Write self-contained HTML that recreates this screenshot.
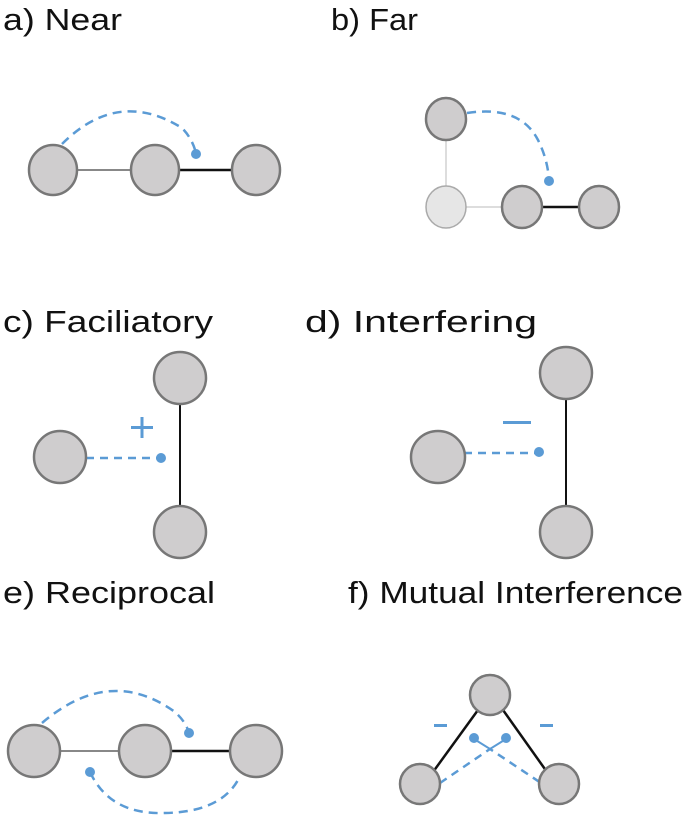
<!DOCTYPE html>
<html><head><meta charset="utf-8"><style>html,body{margin:0;padding:0;background:#fff}</style></head>
<body>
<svg width="685" height="816" viewBox="0 0 685 816" xmlns="http://www.w3.org/2000/svg">
<g font-family="Liberation Sans, sans-serif" font-size="31" fill="#111">
<text x="3" y="30" textLength="119" lengthAdjust="spacingAndGlyphs">a) Near</text>
<text x="331" y="30" textLength="87" lengthAdjust="spacingAndGlyphs">b) Far</text>
<text x="3" y="332" textLength="210" lengthAdjust="spacingAndGlyphs">c) Faciliatory</text>
<text x="305" y="332" textLength="232" lengthAdjust="spacingAndGlyphs">d) Interfering</text>
<text x="3" y="603" textLength="212" lengthAdjust="spacingAndGlyphs">e) Reciprocal</text>
<text x="348" y="603" textLength="335" lengthAdjust="spacingAndGlyphs">f) Mutual Interference</text>
</g>
<g fill="none" stroke-linecap="butt">
<line x1="77" y1="170" x2="131" y2="170" stroke="#888" stroke-width="2"/>
<line x1="179" y1="170" x2="232" y2="170" stroke="#111" stroke-width="2.5"/>
<path d="M62,144 Q118,88 182,128 Q192,138 196,153" stroke="#5b9bd5" stroke-width="2.5" stroke-dasharray="9,6"/>
<line x1="446" y1="140" x2="446" y2="186" stroke="#ddd" stroke-width="2"/>
<line x1="466" y1="207" x2="502" y2="207" stroke="#ddd" stroke-width="2"/>
<line x1="542" y1="207" x2="579" y2="207" stroke="#111" stroke-width="2.5"/>
<path d="M467,113 Q520,105 538,140 Q548,160 549,181" stroke="#5b9bd5" stroke-width="2.5" stroke-dasharray="9,6"/>
<line x1="180" y1="404" x2="180" y2="506" stroke="#111" stroke-width="2"/>
<line x1="86" y1="458" x2="161" y2="458" stroke="#5b9bd5" stroke-width="2.5" stroke-dasharray="8,6"/>
<line x1="566" y1="399" x2="566" y2="506" stroke="#111" stroke-width="2"/>
<line x1="464" y1="453" x2="539" y2="453" stroke="#5b9bd5" stroke-width="2.5" stroke-dasharray="8,6"/>
<line x1="60" y1="751" x2="119" y2="751" stroke="#888" stroke-width="2"/>
<line x1="171" y1="751" x2="230" y2="751" stroke="#111" stroke-width="2.5"/>
<path d="M42,723 Q110,665 175,712 Q186,722 189,733" stroke="#5b9bd5" stroke-width="2.5" stroke-dasharray="9,6"/>
<path d="M90,772 Q110,815 165,813 Q220,812 238,780" stroke="#5b9bd5" stroke-width="2.5" stroke-dasharray="9,6"/>
<line x1="478" y1="710" x2="433" y2="772" stroke="#111" stroke-width="2.5"/>
<line x1="503" y1="710" x2="547" y2="772" stroke="#111" stroke-width="2.5"/>
<path d="M440,783 L490,749 L541,783" stroke="#5b9bd5" stroke-width="2.5" stroke-dasharray="8,6"/>
<path d="M474,739 L490,749 L506,739" stroke="#5b9bd5" stroke-width="2"/>
</g>
<g fill="#5b9bd5">
<circle cx="196" cy="154" r="5"/>
<circle cx="549" cy="181" r="5"/>
<circle cx="161" cy="458" r="5"/>
<circle cx="539" cy="452" r="5"/>
<circle cx="189" cy="733" r="5"/>
<circle cx="90" cy="772" r="5"/>
<circle cx="474" cy="738" r="5"/>
<circle cx="506" cy="738" r="5"/>
<rect x="131" y="426" width="22" height="3"/>
<rect x="140.5" y="417" width="3" height="21"/>
<rect x="503" y="421" width="28" height="3"/>
<rect x="434" y="724" width="13" height="3"/>
<rect x="540" y="724" width="13" height="3"/>
</g>
<g fill="#cfcdce" stroke="#777" stroke-width="2.5">
<ellipse cx="53" cy="170" rx="24" ry="25"/>
<ellipse cx="155" cy="170" rx="24" ry="25"/>
<ellipse cx="256" cy="170" rx="24" ry="25"/>
<ellipse cx="446" cy="119" rx="20" ry="21"/>
<ellipse cx="446" cy="207" rx="20" ry="21" fill="#e6e6e6" stroke="#aaa" stroke-width="1.5"/>
<ellipse cx="522" cy="207" rx="20" ry="21"/>
<ellipse cx="599" cy="207" rx="20" ry="21"/>
<ellipse cx="60" cy="457" rx="26" ry="26"/>
<ellipse cx="180" cy="378" rx="26" ry="26"/>
<ellipse cx="180" cy="532" rx="26" ry="26"/>
<ellipse cx="438" cy="457" rx="27" ry="26"/>
<ellipse cx="566" cy="373" rx="26" ry="26"/>
<ellipse cx="566" cy="532" rx="26" ry="26"/>
<ellipse cx="34" cy="751" rx="26" ry="26"/>
<ellipse cx="145" cy="751" rx="26" ry="26"/>
<ellipse cx="256" cy="751" rx="26" ry="26"/>
<ellipse cx="490" cy="695" rx="20" ry="20"/>
<ellipse cx="420" cy="784" rx="20" ry="20"/>
<ellipse cx="559" cy="784" rx="20" ry="20"/>
</g>
</svg>
</body></html>
